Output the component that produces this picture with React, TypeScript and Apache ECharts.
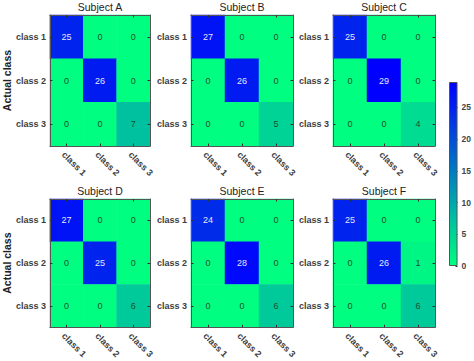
import React, { useEffect, useRef } from "react";
import * as echarts from "echarts";

const CLASSES = ["class 1", "class 2", "class 3"];
const SUBJECTS = ["Subject A", "Subject B", "Subject C", "Subject D", "Subject E", "Subject F"];
const MAT_A = [[25, 0, 0], [0, 26, 0], [0, 0, 7]];
const MAT_B = [[27, 0, 0], [0, 26, 0], [0, 0, 5]];
const MAT_C = [[25, 0, 0], [0, 29, 0], [0, 0, 4]];
const MAT_D = [[27, 0, 0], [0, 25, 0], [0, 0, 6]];
const MAT_E = [[24, 0, 0], [0, 28, 0], [0, 0, 6]];
const MAT_F = [[25, 0, 0], [0, 26, 1], [0, 0, 6]];
const MATRICES = [MAT_A, MAT_B, MAT_C, MAT_D, MAT_E, MAT_F];
const COLOR_MIN = 0;
const COLOR_MAX = 29;
const COLORBAR_TICKS = [0, 5, 10, 15, 20, 25];

const GRID_POS = [
  { left: 48, top: 14 },
  { left: 191, top: 14 },
  { left: 333, top: 14 },
  { left: 48, top: 199 },
  { left: 191, top: 199 },
  { left: 333, top: 199 },
];
const GW = 102;
const GH = 132;
const LOW = "#00ff80";
const HIGH = "#0000ff";
const FONT = "Liberation Sans, Arial, sans-serif";

export default function App() {
  const ref = useRef<HTMLDivElement>(null);
  useEffect(() => {
    if (!ref.current) return;
    const chart = echarts.init(ref.current, null, { renderer: "svg" });
    const grid: any[] = [];
    const xAxis: any[] = [];
    const yAxis: any[] = [];
    const series: any[] = [];
    const lineStyle = { color: "#555", width: 1 };
    const tickStyle = { show: true, inside: true, length: 2.5, alignWithLabel: true, lineStyle: { color: "#333", width: 1 } };
    MATRICES.forEach((m, i) => {
      grid.push({ left: GRID_POS[i].left, top: GRID_POS[i].top, width: GW, height: GH });
      xAxis.push({
        type: "category", gridIndex: i, data: CLASSES, position: "bottom", z: 10,
        axisLine: { show: true, lineStyle }, axisTick: tickStyle,
        axisLabel: { rotate: -45, fontSize: 9, fontWeight: "bold", color: "#404040", fontFamily: FONT, margin: 4, interval: 0, verticalAlign: "top" },
      });
      xAxis.push({
        type: "category", gridIndex: i, data: CLASSES, position: "top", z: 10,
        axisLine: { show: true, lineStyle }, axisTick: tickStyle, axisLabel: { show: false },
        name: SUBJECTS[i], nameLocation: "middle", nameGap: 3,
        nameTextStyle: { fontSize: 10.5, color: "#222", fontFamily: FONT },
      });
      yAxis.push({
        type: "category", gridIndex: i, data: CLASSES, inverse: true, position: "left", z: 10,
        axisLine: { show: true, lineStyle }, axisTick: tickStyle,
        axisLabel: { fontSize: 9, fontWeight: "bold", color: "#404040", fontFamily: FONT, margin: 4 },
        name: i % 3 === 0 ? "Actual class" : "", nameLocation: "middle", nameGap: 36, nameRotate: 90,
        nameTextStyle: { fontSize: 10.5, fontWeight: "bold", color: "#222", fontFamily: FONT },
      });
      yAxis.push({
        type: "category", gridIndex: i, data: CLASSES, inverse: true, position: "right", z: 10,
        axisLine: { show: true, lineStyle }, axisTick: tickStyle, axisLabel: { show: false },
      });
      const data: any[] = [];
      m.forEach((row, r) =>
        row.forEach((v, c) => {
          data.push({ value: [c, r, v], label: { color: v > 14 ? "#e6e6ff" : "#1c4f2c" } });
        })
      );
      series.push({
        type: "heatmap", xAxisIndex: i * 2, yAxisIndex: i * 2, data,
        label: { show: true, fontSize: 9, fontFamily: FONT },
        emphasis: { disabled: true },
      });
    });
    const cb = MATRICES.length;
    grid.push({ left: 449, top: 82, width: 10, height: 184 });
    xAxis.push({ type: "category", gridIndex: cb, data: ["cb"], show: false });
    yAxis.push({
      type: "value", gridIndex: cb, min: COLOR_MIN, max: COLOR_MAX, position: "right",
      axisLine: { show: false }, splitLine: { show: false },
      axisTick: { show: true, inside: true, length: 2, lineStyle: { color: "#333" }, customValues: COLORBAR_TICKS },
      axisLabel: { fontSize: 8.5, fontWeight: "bold", color: "#444", fontFamily: FONT, margin: 4, customValues: COLORBAR_TICKS },
    });
    series.push({
      type: "bar", xAxisIndex: xAxis.length - 1, yAxisIndex: yAxis.length - 1,
      data: [COLOR_MAX], barWidth: "100%", silent: true,
      itemStyle: {
        color: new echarts.graphic.LinearGradient(0, 0, 0, 1, [
          { offset: 0, color: HIGH },
          { offset: 1, color: LOW },
        ]),
        borderColor: "#555", borderWidth: 1,
      },
    });
    chart.setOption({
      animation: false,
      grid, xAxis, yAxis, series,
      visualMap: {
        show: false, type: "continuous", min: COLOR_MIN, max: COLOR_MAX,
        seriesIndex: MATRICES.map((_, i) => i), dimension: 2,
        inRange: { color: [LOW, HIGH] },
      },
    });
    return () => chart.dispose();
  }, []);
  return <div ref={ref} style={{ position: "fixed", left: 0, top: 0, width: 474, height: 361, background: "#fff" }} />;
}
